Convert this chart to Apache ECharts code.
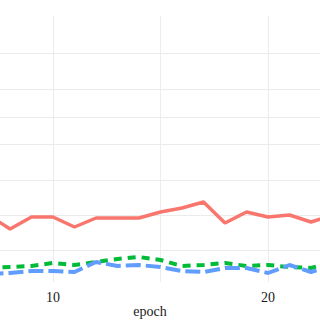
<!DOCTYPE html>
<html>
<head>
<meta charset="utf-8">
<script src="https://cdn.jsdelivr.net/npm/echarts@6/dist/echarts.min.js"></script>
<style>html,body{margin:0;padding:0;background:#fff}#c{width:320px;height:320px}</style>
</head>
<body>
<div id="c"></div>
<script>
var epochs = [7, 8, 9, 10, 11, 12, 13, 14, 15, 16, 17, 18, 19, 20, 21, 22, 23];
var redValues   = [0.67, 0.53, 0.65, 0.65, 0.55, 0.64, 0.64, 0.64, 0.70, 0.74, 0.80, 0.59, 0.70, 0.65, 0.67, 0.60, 0.67];
var greenValues = [0.14, 0.15, 0.16, 0.19, 0.17, 0.20, 0.23, 0.25, 0.22, 0.16, 0.17, 0.19, 0.16, 0.17, 0.15, 0.14, 0.20];
var blueValues  = [0.08, 0.09, 0.11, 0.11, 0.10, 0.20, 0.16, 0.17, 0.15, 0.11, 0.10, 0.14, 0.14, 0.09, 0.17, 0.10, 0.16];
var yGridValues = [0.32, 0.67, 1.02, 1.38, 1.65, 1.93, 2.29];
var xTitle = 'epoch';

function pairs(vals) { return epochs.map(function (e, i) { return [e, vals[i]]; }); }

var chart = echarts.init(document.getElementById('c'), null, { renderer: 'svg' });
var font = 'Liberation Serif';
chart.setOption({
  animation: false,
  backgroundColor: '#ffffff',
  grid: { left: -162, width: 645, top: 16, bottom: 38, containLabel: false, outerBoundsMode: 'none' },
  xAxis: {
    type: 'value', min: 0, max: 30, interval: 10,
    axisLine: { show: false }, axisTick: { show: false },
    axisLabel: { color: '#1a1a1a', fontFamily: font, fontSize: 14, margin: 8, showMinLabel: false, showMaxLabel: false },
    splitLine: { show: true, lineStyle: { color: '#ebebeb', width: 1 } },
    minorTick: { show: false, splitNumber: 2 },
    minorSplitLine: { show: true, lineStyle: { color: '#ededed', width: 1 } },
    name: xTitle, nameLocation: 'middle', nameGap: 22, nameMoveOverlap: false,
    nameTextStyle: { color: '#1a1a1a', fontFamily: font, fontSize: 14, lineHeight: 14, verticalAlign: 'top', padding: [0, 21, 0, 0] }
  },
  yAxis: {
    type: 'value', min: 0, max: 2.66,
    axisLine: { show: false }, axisTick: { show: false }, axisLabel: { show: false },
    splitLine: { show: false }
  },
  series: [
    {
      type: 'line', data: pairs(redValues), symbol: 'none', z: 3,
      lineStyle: { color: '#F8766D', width: 3.5 },
      markLine: {
        silent: true, symbol: 'none', label: { show: false }, z: 1,
        lineStyle: { color: '#ebebeb', width: 1, type: 'solid' },
        data: yGridValues.map(function (v) { return { yAxis: v }; })
      }
    },
    {
      type: 'line', data: pairs(greenValues), symbol: 'none', z: 4,
      lineStyle: { color: '#00BA38', width: 4, type: [8, 6] }
    },
    {
      type: 'line', data: pairs(blueValues), symbol: 'none', z: 5,
      lineStyle: { color: '#619CFF', width: 4, type: [15, 5] }
    }
  ]
});
</script>
</body>
</html>
